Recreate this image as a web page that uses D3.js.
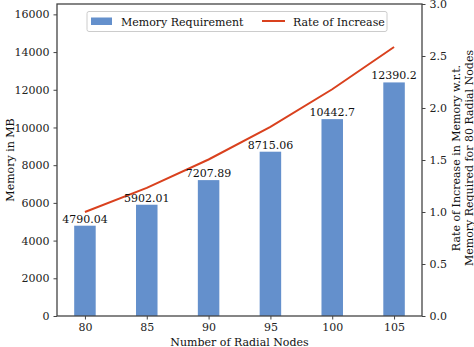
<!DOCTYPE html>
<html><head><meta charset="utf-8">
<script src="https://cdn.jsdelivr.net/npm/d3@7"></script>
<style>body{margin:0;background:#fff}svg{display:block}</style>
</head><body>
<script>
const nodes = [80, 85, 90, 95, 100, 105];
const memory = [4790.04, 5902.01, 7207.89, 8715.06, 10442.7, 12390.2];
const memoryLabels = ["4790.04", "5902.01", "7207.89", "8715.06", "10442.7", "12390.2"];
const rate = [1.0, 1.232, 1.505, 1.819, 2.180, 2.587];
const leftTicks = [0, 2000, 4000, 6000, 8000, 10000, 12000, 14000, 16000];
const rightTicks = [0, 0.5, 1.0, 1.5, 2.0, 2.5, 3.0];

const W = 474, H = 347;
const m = {l: 57, r: 422, t: 4, b: 316};
const font = "'DejaVu Serif', serif";
const barColor = "#6490cc", lineColor = "#d9411e", spine = "#444";

const svg = d3.select("body").append("svg").attr("width", W).attr("height", H)
  .style("font-family", font);

const x = d3.scaleLinear().domain([77.74, 107.26]).range([m.l, m.r]);
const yL = d3.scaleLinear().domain([0, 16550]).range([m.b, m.t]);
const yR = d3.scaleLinear().domain([0, 3]).range([m.b, m.t]);
const barW = 21.5;

// bars
svg.append("g").selectAll("rect").data(nodes).join("rect")
  .attr("x", (d) => x(d) - barW / 2)
  .attr("y", (d, i) => yL(memory[i]))
  .attr("width", barW)
  .attr("height", (d, i) => yL(0) - yL(memory[i]))
  .attr("fill", barColor);

// line
svg.append("path")
  .datum(nodes.map((d, i) => [x(d), yR(rate[i])]))
  .attr("d", d3.line())
  .attr("fill", "none").attr("stroke", lineColor).attr("stroke-width", 2);

// frame
svg.append("rect").attr("x", m.l).attr("y", m.t).attr("width", m.r - m.l).attr("height", m.b - m.t)
  .attr("fill", "none").attr("stroke", spine).attr("stroke-width", 1.3);

// axes
function styleAxis(g) {
  g.select(".domain").remove();
  g.selectAll(".tick line").attr("stroke", spine).attr("stroke-width", 1);
  g.selectAll(".tick text").attr("fill", "#222").style("font-family", font).style("font-size", "11px");
}
svg.append("g").attr("transform", `translate(0,${m.b})`)
  .call(d3.axisBottom(x).tickValues(nodes).tickSize(3.5).tickPadding(4).tickFormat(d3.format("d")))
  .call(styleAxis);
svg.append("g").attr("transform", `translate(${m.l},0)`)
  .call(d3.axisLeft(yL).tickValues(leftTicks).tickSize(3.5).tickPadding(4).tickFormat(d3.format("d")))
  .call(styleAxis);
svg.append("g").attr("transform", `translate(${m.r},0)`)
  .call(d3.axisRight(yR).tickValues(rightTicks).tickSize(3.5).tickPadding(4).tickFormat(d3.format(".1f")))
  .call(styleAxis);

// bar labels
svg.append("g").selectAll("text").data(nodes).join("text")
  .attr("x", (d) => x(d))
  .attr("y", (d, i) => yL(memory[i]) - 3)
  .attr("text-anchor", "middle")
  .attr("font-size", "11px").attr("fill", "#111")
  .text((d, i) => memoryLabels[i]);

// axis titles
svg.append("text").attr("x", (m.l + m.r) / 2).attr("y", 346)
  .attr("text-anchor", "middle").attr("font-size", "11px").attr("fill", "#111")
  .text("Number of Radial Nodes");
svg.append("text").attr("transform", `translate(14,${(m.t + m.b) / 2}) rotate(-90)`)
  .attr("text-anchor", "middle").attr("font-size", "11px").attr("fill", "#111")
  .text("Memory in MB");
const rt = svg.append("text").attr("transform", `translate(460,158) rotate(-90)`)
  .attr("text-anchor", "middle").attr("font-size", "11px").attr("fill", "#111");
rt.append("tspan").attr("x", 0).attr("dy", 0).text("Rate of Increase in Memory w.r.t.");
rt.append("tspan").attr("x", 0).attr("dy", 12.5).text("Memory Required for 80 Radial Nodes");

// legend
const lg = svg.append("g");
lg.append("rect").attr("x", 87).attr("y", 11.5).attr("width", 300).attr("height", 20).attr("rx", 2)
  .attr("fill", "#fff").attr("fill-opacity", 0.8).attr("stroke", "#ccc").attr("stroke-width", 1);
lg.append("rect").attr("x", 91).attr("y", 17.5).attr("width", 21).attr("height", 7.5).attr("fill", barColor);
lg.append("text").attr("x", 121).attr("y", 25.5).attr("font-size", "11px").attr("fill", "#111").text("Memory Requirement");
lg.append("line").attr("x1", 262).attr("x2", 285).attr("y1", 21).attr("y2", 21)
  .attr("stroke", lineColor).attr("stroke-width", 2);
lg.append("text").attr("x", 293).attr("y", 25.5).attr("font-size", "11px").attr("fill", "#111").text("Rate of Increase");
</script>
</body></html>
